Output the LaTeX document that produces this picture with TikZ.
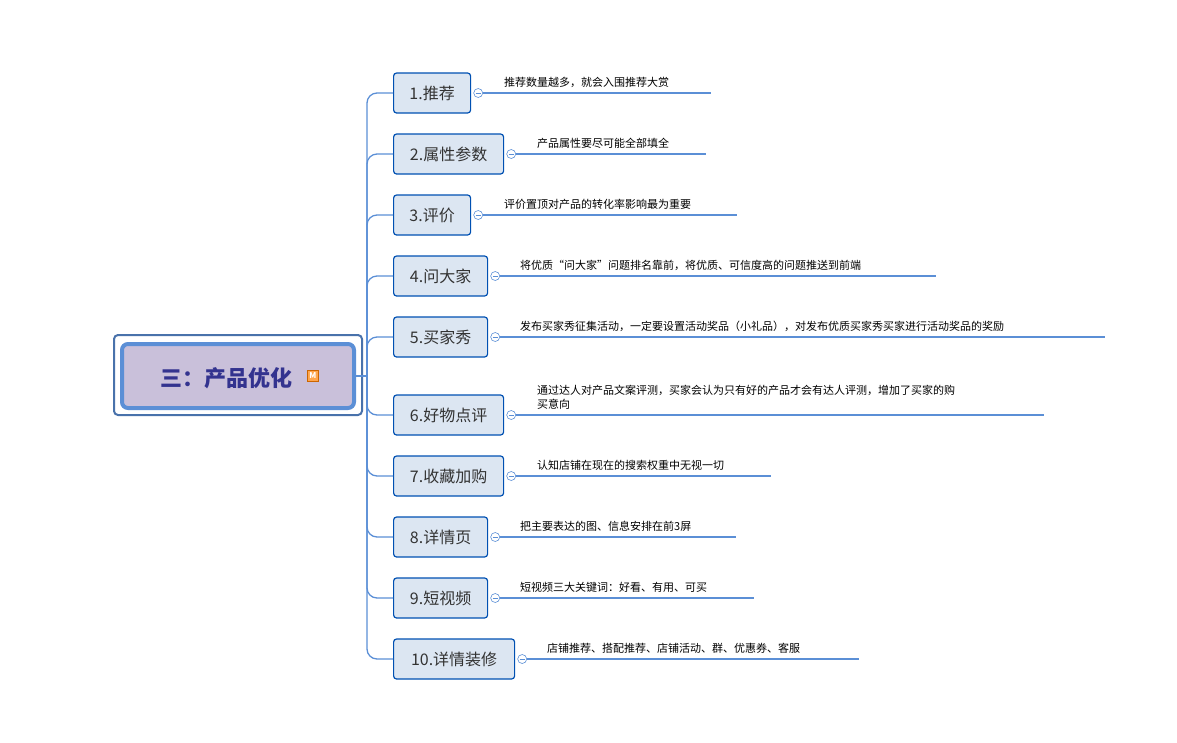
\documentclass[tikz,border=0pt]{standalone}
\usepackage{fontspec}
\setmainfont{Noto Sans CJK SC}
\begin{document}
\begin{tikzpicture}[x=1pt,y=-1pt,
 br/.style={draw=blue!55!cyan!70!black,line width=1.2pt,fill=bfill,rounded corners=3pt,anchor=west,minimum height=40pt,inner xsep=0pt,font=\fontsize{16}{18}\selectfont,text=black!80},
 lf/.style={anchor=south west,font=\fontsize{11}{14}\selectfont,align=left,inner sep=1pt},
 ln/.style={draw=lcol,line width=1.3pt},
 tog/.style={circle,draw=lcol,fill=white,minimum size=9pt,inner sep=0pt,line width=0.6pt}]
\definecolor{bfill}{HTML}{DCE6F2}
\definecolor{lcol}{HTML}{5B8FD6}
\definecolor{rfill}{HTML}{C9C0DA}
\useasboundingbox (0,0) rectangle (1177,742);
% root
\draw[draw=lcol!80!black,line width=2pt,rounded corners=4pt] (114,335) rectangle (362,415);
\node[draw=lcol,line width=4pt,fill=rfill,rounded corners=6pt,minimum width=232pt,minimum height=64pt] (root) at (238,376) {};
\node[font=\fontsize{22}{24}\selectfont\bfseries,text=blue!45!black!80] (rt) at (226,378) {三：产品优化};
\node[draw=orange!80!black,fill=orange!70,text=white,font=\fontsize{8}{8}\selectfont\bfseries,inner sep=1pt,minimum size=11pt] (mi) at (313,376) {M};
\draw[lcol,line width=1.3pt] (356,376) -- (367,376);
\coordinate (sp) at (367,376);
\foreach \y/\w/\t/\ux/\ue/\tx [count=\i] in {
 93/77/1.推荐/485/711/505,
 154/110/2.属性参数/510/706/538,
 215/77/3.评价/485/737/505,
 276/94/4.问大家/495/936/521,
 337/94/5.买家秀/495/1105/521,
 415/110/6.好物点评/510/1044/538,
 476/110/7.收藏加购/510/771/538,
 537/94/8.详情页/495/736/521,
 598/94/9.短视频/495/754/521,
 659/121/10.详情装修/520/859/548}{
 \node[br,minimum width=\w pt,text width=\w pt,align=center] (b\i) at (393,\y) {\t};
 \draw[lcol,line width=1.3pt,rounded corners=10pt] (sp) |- (b\i.west);
 \node[tog] (t\i) at ([xshift=7pt]b\i.east) {};
 \node[tog,draw=none,fill=none,minimum size=1pt] (u\i) at (\ue,\y) {};
 \draw[ln] (t\i.east) -- (u\i.center);
 \draw[lcol,line width=0.6pt] ([xshift=-2.5pt]t\i.center) -- ([xshift=2.5pt]t\i.center);
}
\node[lf] (l1) at (503,89) {推荐数量越多，就会入围推荐大赏};
\node[lf] (l2) at (536,150) {产品属性要尽可能全部填全};
\node[lf] (l3) at (503,211) {评价置顶对产品的转化率影响最为重要};
\node[lf] (l4) at (519,272) {将优质“问大家”问题排名靠前，将优质、可信度高的问题推送到前端};
\node[lf] (l5) at (519,333) {发布买家秀征集活动，一定要设置活动奖品（小礼品），对发布优质买家秀买家进行活动奖品的奖励};
\node[lf] (l6) at (536,411) {通过达人对产品文案评测，买家会认为只有好的产品才会有达人评测，增加了买家的购\\买意向};
\node[lf] (l7) at (536,472) {认知店铺在现在的搜索权重中无视一切};
\node[lf] (l8) at (519,533) {把主要表达的图、信息安排在前3屏};
\node[lf] (l9) at (519,594) {短视频三大关键词：好看、有用、可买};
\node[lf] (l10) at (546,655) {店铺推荐、搭配推荐、店铺活动、群、优惠券、客服};
\end{tikzpicture}
\end{document}
